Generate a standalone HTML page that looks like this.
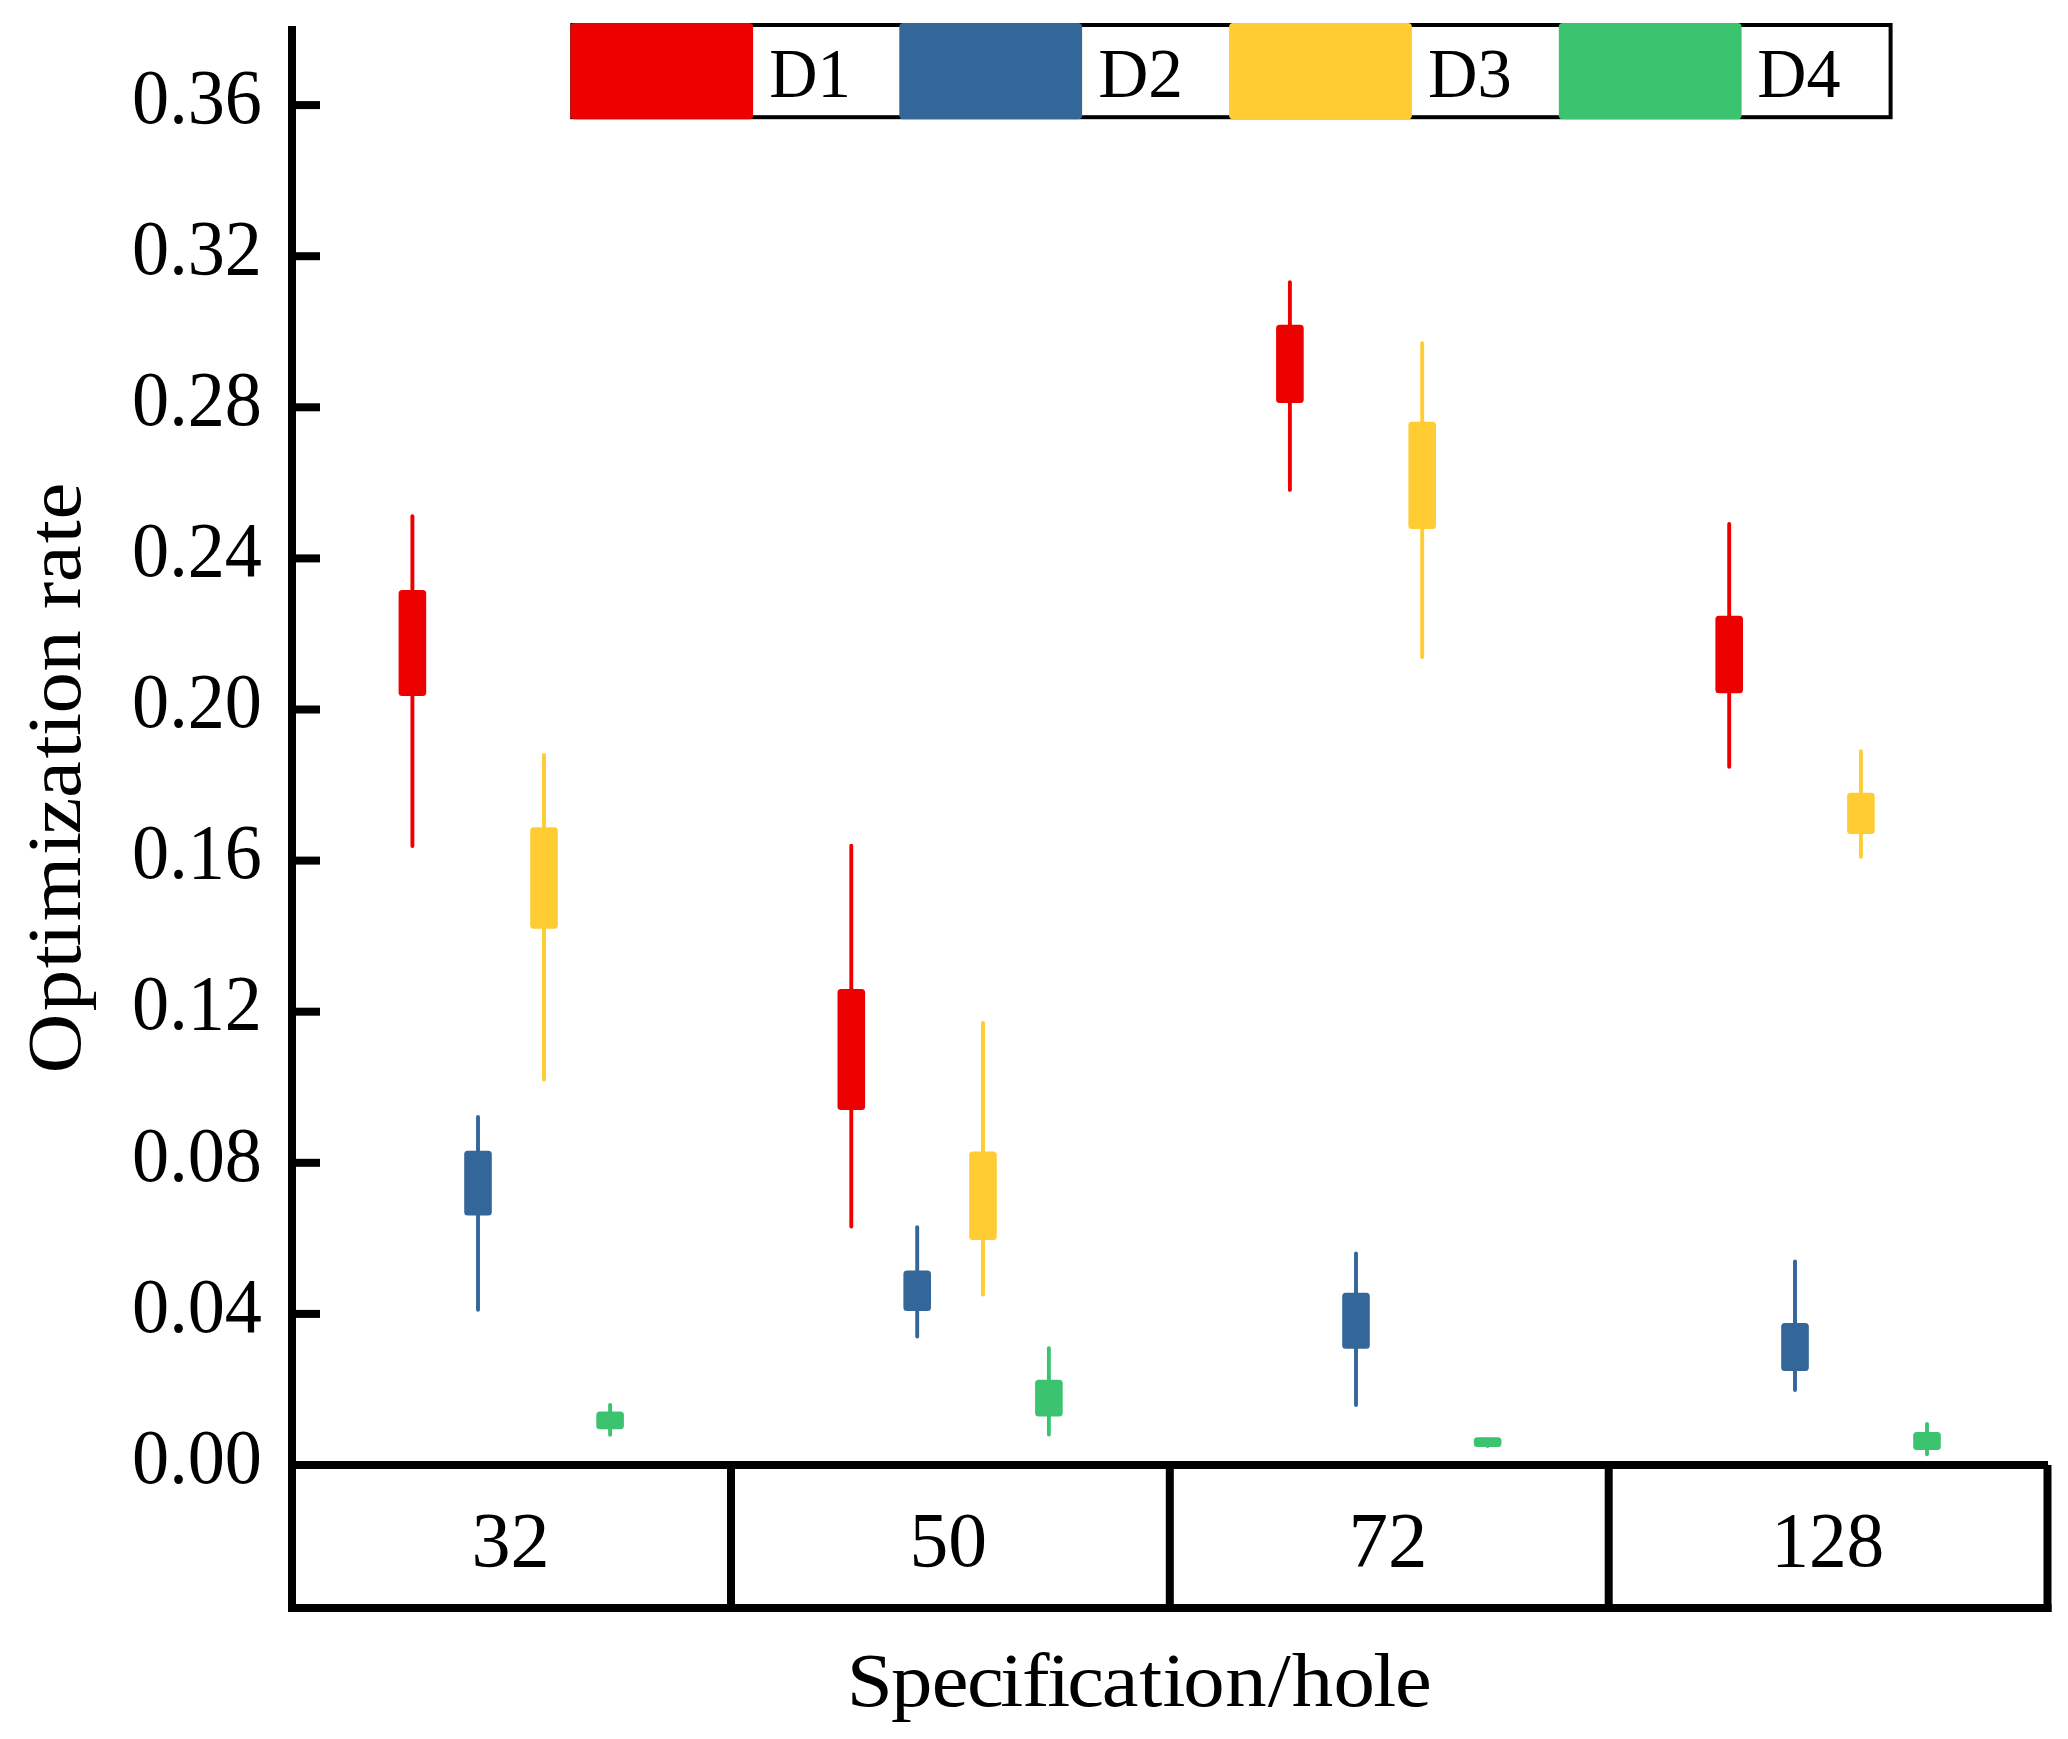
<!DOCTYPE html>
<html lang="en"><head><meta charset="utf-8"><title>Optimization rate by specification</title>
<style>
html,body{margin:0;padding:0;background:#fff;}
body{width:2068px;height:1739px;overflow:hidden;}
svg{display:block;}
text{font-family:"Liberation Serif",serif;fill:#000;}
</style></head><body>
<svg width="2068" height="1739" viewBox="0 0 2068 1739">
<rect x="0" y="0" width="2068" height="1739" fill="#fff"/>
<g id="legend">
<rect x="572.3" y="25" width="1318.3" height="92.2" fill="#fff" stroke="#000" stroke-width="4"/>
<rect x="570.3" y="23" width="182.8" height="96.2" rx="4" ry="4" fill="#EC0000"/>
<text font-size="69.50" x="769.20" y="97.30" textLength="81.63" lengthAdjust="spacingAndGlyphs">D1</text>
<rect x="899.3" y="23" width="182.8" height="96.2" rx="4" ry="4" fill="#336699"/>
<text font-size="69.50" x="1098.20" y="97.30" textLength="84.84" lengthAdjust="spacingAndGlyphs">D2</text>
<rect x="1229.1" y="23" width="182.8" height="96.2" rx="4" ry="4" fill="#FFCC33"/>
<text font-size="69.50" x="1428.00" y="97.30" textLength="83.78" lengthAdjust="spacingAndGlyphs">D3</text>
<rect x="1558.8" y="23" width="182.8" height="96.2" rx="4" ry="4" fill="#3CC36F"/>
<text font-size="69.50" x="1757.20" y="97.30" textLength="83.29" lengthAdjust="spacingAndGlyphs">D4</text>
</g>
<g id="axes" fill="#000">
<rect x="288" y="26" width="8" height="1586"/>
<rect x="292" y="1309.9" width="28" height="8"/>
<rect x="292" y="1158.8" width="28" height="8"/>
<rect x="292" y="1007.7" width="28" height="8"/>
<rect x="292" y="856.6" width="28" height="8"/>
<rect x="292" y="705.5" width="28" height="8"/>
<rect x="292" y="554.4" width="28" height="8"/>
<rect x="292" y="403.3" width="28" height="8"/>
<rect x="292" y="252.2" width="28" height="8"/>
<rect x="292" y="101.1" width="28" height="8"/>
<rect x="288" y="1461" width="1760" height="8"/>
<rect x="288" y="1604" width="1763.5" height="8"/>
<rect x="2043.5" y="1465" width="8" height="147"/>
<rect x="727.0" y="1465" width="8" height="143"/>
<rect x="1165.8" y="1465" width="8" height="143"/>
<rect x="1604.7" y="1465" width="8" height="143"/>
</g>
<g id="yticks">
<text font-size="78.00" x="132.00" y="1482.75" textLength="129.95" lengthAdjust="spacingAndGlyphs">0.00</text>
<text font-size="78.00" x="132.00" y="1331.65" textLength="129.95" lengthAdjust="spacingAndGlyphs">0.04</text>
<text font-size="78.00" x="132.00" y="1180.55" textLength="129.95" lengthAdjust="spacingAndGlyphs">0.08</text>
<text font-size="78.00" x="132.00" y="1029.45" textLength="129.95" lengthAdjust="spacingAndGlyphs">0.12</text>
<text font-size="78.00" x="132.00" y="878.35" textLength="129.95" lengthAdjust="spacingAndGlyphs">0.16</text>
<text font-size="78.00" x="132.00" y="727.25" textLength="129.95" lengthAdjust="spacingAndGlyphs">0.20</text>
<text font-size="78.00" x="132.00" y="576.15" textLength="129.95" lengthAdjust="spacingAndGlyphs">0.24</text>
<text font-size="78.00" x="132.00" y="425.05" textLength="129.95" lengthAdjust="spacingAndGlyphs">0.28</text>
<text font-size="78.00" x="132.00" y="273.95" textLength="129.95" lengthAdjust="spacingAndGlyphs">0.32</text>
<text font-size="78.00" x="132.00" y="122.85" textLength="129.95" lengthAdjust="spacingAndGlyphs">0.36</text>
</g>
<g id="xcats">
<text font-size="78.00" x="471.50" y="1565.75" textLength="78.16" lengthAdjust="spacingAndGlyphs">32</text>
<text font-size="78.00" x="909.50" y="1565.75" textLength="77.62" lengthAdjust="spacingAndGlyphs">50</text>
<text font-size="78.00" x="1348.50" y="1565.75" textLength="79.01" lengthAdjust="spacingAndGlyphs">72</text>
<text font-size="78.00" x="1771.20" y="1565.75" textLength="113.07" lengthAdjust="spacingAndGlyphs">128</text>
</g>
<text id="xtitle" font-size="76.00" transform="translate(0,1706.20) scale(1.09,1)" x="776.80 817.51 854.80 887.21 917.67 937.55 960.84 979.23 1010.85 1045.30 1066.43 1085.59 1124.10 1162.97 1185.07 1223.29 1259.90 1279.80" y="0">Specification/hole</text>
<text id="ytitle" font-size="76.00" transform="translate(80.30,1100.00) rotate(-90) scale(1.09,1)" x="24.39 81.46 120.90 140.88 163.91 224.83 243.54 277.04 313.42 333.86 354.58 392.90 428.21 450.22 475.07 510.76 532.65" y="0">Optimization rate</text>
<g id="boxes">
<line x1="412.4" y1="516.2" x2="412.4" y2="846.0" stroke="#EC0000" stroke-width="3.9" stroke-linecap="round"/>
<rect x="398.6" y="589.9" width="27.6" height="106.1" rx="3.5" ry="3.5" fill="#EC0000"/>
<line x1="478.0" y1="1117.0" x2="478.0" y2="1309.8" stroke="#336699" stroke-width="3.9" stroke-linecap="round"/>
<rect x="464.2" y="1150.7" width="27.6" height="64.9" rx="3.5" ry="3.5" fill="#336699"/>
<line x1="544.0" y1="754.9" x2="544.0" y2="1079.6" stroke="#FFCC33" stroke-width="3.9" stroke-linecap="round"/>
<rect x="530.2" y="827.2" width="27.6" height="101.5" rx="3.5" ry="3.5" fill="#FFCC33"/>
<line x1="610.1" y1="1405.0" x2="610.1" y2="1434.8" stroke="#3CC36F" stroke-width="3.9" stroke-linecap="round"/>
<rect x="596.3" y="1411.6" width="27.6" height="17.7" rx="3.5" ry="3.5" fill="#3CC36F"/>
<line x1="851.3" y1="845.6" x2="851.3" y2="1226.5" stroke="#EC0000" stroke-width="3.9" stroke-linecap="round"/>
<rect x="837.5" y="988.9" width="27.6" height="121.1" rx="3.5" ry="3.5" fill="#EC0000"/>
<line x1="917.2" y1="1227.2" x2="917.2" y2="1336.6" stroke="#336699" stroke-width="3.9" stroke-linecap="round"/>
<rect x="903.4" y="1270.5" width="27.6" height="40.5" rx="3.5" ry="3.5" fill="#336699"/>
<line x1="983.0" y1="1023.0" x2="983.0" y2="1294.6" stroke="#FFCC33" stroke-width="3.9" stroke-linecap="round"/>
<rect x="969.2" y="1151.6" width="27.6" height="88.4" rx="3.5" ry="3.5" fill="#FFCC33"/>
<line x1="1048.9" y1="1348.2" x2="1048.9" y2="1434.5" stroke="#3CC36F" stroke-width="3.9" stroke-linecap="round"/>
<rect x="1035.1" y="1379.8" width="27.6" height="36.8" rx="3.5" ry="3.5" fill="#3CC36F"/>
<line x1="1289.9" y1="282.2" x2="1289.9" y2="489.9" stroke="#EC0000" stroke-width="3.9" stroke-linecap="round"/>
<rect x="1276.1" y="324.7" width="27.6" height="78.3" rx="3.5" ry="3.5" fill="#EC0000"/>
<line x1="1356.0" y1="1253.5" x2="1356.0" y2="1405.1" stroke="#336699" stroke-width="3.9" stroke-linecap="round"/>
<rect x="1342.2" y="1292.8" width="27.6" height="56.0" rx="3.5" ry="3.5" fill="#336699"/>
<line x1="1422.2" y1="343.1" x2="1422.2" y2="657.0" stroke="#FFCC33" stroke-width="3.9" stroke-linecap="round"/>
<rect x="1408.4" y="421.8" width="27.6" height="107.3" rx="3.5" ry="3.5" fill="#FFCC33"/>
<line x1="1487.6" y1="1439.4" x2="1487.6" y2="1446.0" stroke="#3CC36F" stroke-width="3.9" stroke-linecap="round"/>
<rect x="1473.8" y="1437.2" width="27.6" height="9.8" rx="3.5" ry="3.5" fill="#3CC36F"/>
<line x1="1729.2" y1="523.9" x2="1729.2" y2="766.8" stroke="#EC0000" stroke-width="3.9" stroke-linecap="round"/>
<rect x="1715.4" y="615.8" width="27.6" height="77.4" rx="3.5" ry="3.5" fill="#EC0000"/>
<line x1="1795.0" y1="1261.5" x2="1795.0" y2="1390.1" stroke="#336699" stroke-width="3.9" stroke-linecap="round"/>
<rect x="1781.2" y="1323.0" width="27.6" height="47.9" rx="3.5" ry="3.5" fill="#336699"/>
<line x1="1860.9" y1="751.1" x2="1860.9" y2="856.8" stroke="#FFCC33" stroke-width="3.9" stroke-linecap="round"/>
<rect x="1847.1" y="792.8" width="27.6" height="41.1" rx="3.5" ry="3.5" fill="#FFCC33"/>
<line x1="1927.0" y1="1423.9" x2="1927.0" y2="1454.2" stroke="#3CC36F" stroke-width="3.9" stroke-linecap="round"/>
<rect x="1913.2" y="1432.1" width="27.6" height="17.8" rx="3.5" ry="3.5" fill="#3CC36F"/>
</g>
</svg></body></html>
